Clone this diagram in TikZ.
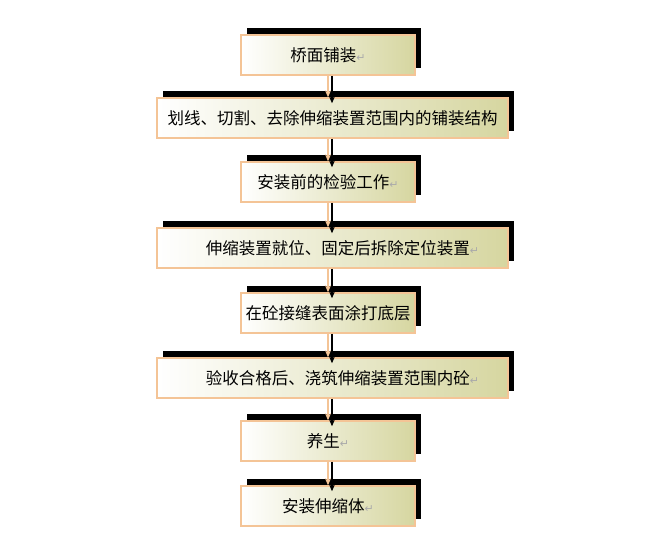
\documentclass[tikz,border=0pt]{standalone}
\usepackage{fontspec}
\newfontfamily\cjk{Noto Sans CJK SC}
\newfontfamily\symb{DejaVu Sans}
\usetikzlibrary{arrows.meta}
\definecolor{boxedge}{RGB}{244,196,150}
\definecolor{boxfill}{RGB}{214,214,160}
\definecolor{retmark}{RGB}{170,170,170}
\tikzset{
  stepbox/.style={draw=boxedge,line width=1.5pt,left color=white,right color=boxfill,
    minimum height=40pt,inner sep=0pt,font=\cjk\fontsize{16.5}{19}\selectfont,
    preaction={fill=black,transform canvas={shift={(6pt,7pt)}}}},
  narrow/.style={stepbox,minimum width=174pt},
  wide/.style={stepbox,minimum width=351pt},
  flow/.style={-{Stealth[length=7pt,width=6pt]},line width=1.5pt}
}
\newcommand{\ret}{{\symb\fontsize{11}{12}\selectfont\color{retmark}↵}}
\begin{document}
\begin{tikzpicture}[x=1pt,y=-1pt]
\useasboundingbox (0,0) rectangle (667,546);

% steps
\node[narrow] (s1) at (328,55) {桥面铺装\ret};
\node[wide]   (s2) at (332.5,118) {划线、切割、去除伸缩装置范围内的铺装结构};
\node[narrow] (s3) at (328,182) {安装前的检验工作\ret};
\node[wide]   (s4) at (332.5,248) {\hspace{20pt}伸缩装置就位、固定后拆除定位装置\ret};
\node[narrow] (s5) at (328,313) {在砼接缝表面涂打底层};
\node[wide]   (s6) at (332.5,378) {\hspace{20pt}验收合格后、浇筑伸缩装置范围内砼\ret};
\node[narrow] (s7) at (328,441) {养生\ret};
\node[narrow] (s8) at (328,506) {安装伸缩体\ret};

% connectors
\foreach \a/\b in {s1/s2,s2/s3,s3/s4,s4/s5,s5/s6,s6/s7,s7/s8}{
  \draw[flow,boxedge] (\a.south -| s1.south) -- (\b.north -| s1.south);
  \draw[flow] ([xshift=4pt]\a.south -| s1.south) -- ([xshift=4pt,yshift=-6pt]\b.north -| s1.south);
}
\end{tikzpicture}
\end{document}
